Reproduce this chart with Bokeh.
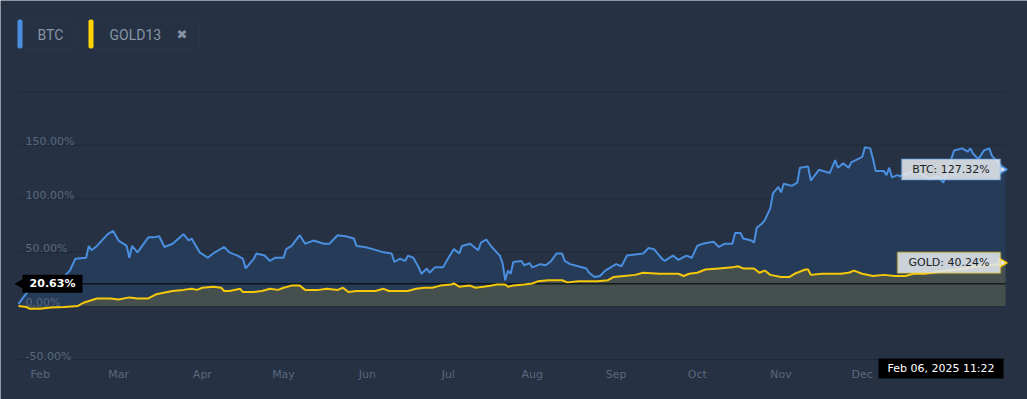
import numpy as np
import pandas as pd
from bokeh.plotting import figure
from bokeh.models import Range1d, ColumnDataSource, LabelSet, Label, BoxAnnotation
from bokeh.core.properties import value
from bokeh.embed import file_html
from bokeh.resources import INLINE

# ---------------- data ----------------
START = pd.Timestamp("2024-01-24")
SPAN_DAYS = 365

btc_day = [0, 3, 4, 12, 17, 19, 21, 25, 26, 27,
           29, 33, 35, 37, 40, 41, 42, 44, 48, 50,
           52, 54, 57, 61, 63, 64, 67, 70, 72, 76,
           78, 81, 83, 84, 87, 88, 91, 93, 95, 98,
           99, 101, 104, 106, 109, 113, 115, 118, 121, 124,
           125, 128, 131, 135, 138, 139, 141, 143, 144, 146,
           148, 149, 151, 152, 154, 157, 159, 161, 163, 164,
           167, 170, 171, 173, 175, 178, 179, 180, 181, 182,
           183, 186, 187, 189, 190, 193, 195, 197, 199, 201,
           202, 204, 207, 210, 211, 213, 215, 217, 219, 221,
           223, 225, 228, 231, 233, 235, 238, 239, 242, 244,
           247, 249, 251, 253, 257, 259, 261, 264, 265, 267,
           268, 271, 272, 273, 275, 276, 278, 279, 281, 282,
           283, 286, 288, 289, 292, 293, 296, 300, 302, 303,
           305, 307, 308, 312, 313, 315, 316, 317, 320, 321,
           322, 323, 325, 326, 330, 334, 337, 340, 342, 344,
           346, 349, 351, 352, 353, 355, 357, 359, 360, 363,
           365]
btc_pct = [2, 12, 17, 22, 28, 33, 44, 45, 56, 52,
           56, 67, 70, 61, 56, 45, 56, 50, 64, 64,
           65, 55, 58, 67, 61, 63, 50, 45, 49, 55,
           50, 47, 44, 35, 44, 49, 47, 42, 45, 45,
           53, 56, 66, 58, 61, 58, 58, 66, 65, 63,
           56, 55, 53, 50, 49, 41, 44, 42, 47, 45,
           36, 30, 35, 31, 36, 36, 45, 53, 49, 56,
           58, 52, 59, 62, 55, 47, 40, 24, 33, 30,
           41, 42, 38, 40, 36, 39, 38, 42, 49, 49,
           42, 39, 37, 35, 31, 27, 28, 33, 36, 39,
           37, 47, 48, 49, 54, 53, 44, 42, 47, 43,
           47, 45, 56, 58, 60, 55, 58, 58, 68, 68,
           63, 61, 59, 73, 77, 80, 91, 105, 111, 106,
           114, 112, 115, 129, 130, 117, 127, 124, 136, 129,
           133, 129, 134, 139, 148, 147, 137, 126, 126, 122,
           129, 120, 122, 121, 125, 123, 118, 121, 115, 130,
           145, 147, 144, 147, 142, 137, 145, 147, 140, 132,
           127.32]

gold_day = [0, 3, 4, 8, 12, 17, 22, 24, 29, 34,
            37, 41, 44, 48, 51, 55, 57, 61, 64, 66,
            68, 72, 75, 76, 78, 82, 83, 87, 90, 93,
            96, 98, 101, 104, 106, 111, 114, 118, 120, 122,
            125, 129, 132, 135, 137, 140, 144, 147, 150, 153,
            156, 160, 161, 163, 167, 169, 172, 175, 177, 180,
            181, 183, 187, 190, 192, 196, 201, 203, 207, 211,
            214, 218, 220, 224, 228, 231, 237, 240, 244, 246,
            248, 251, 254, 259, 264, 266, 268, 272, 274, 276,
            278, 282, 285, 287, 291, 292, 293, 297, 301, 304,
            307, 309, 312, 316, 320, 324, 328, 331, 335, 338,
            343, 347, 350, 354, 358, 362, 365]
gold_pct = [0, -1, -2.5, -2.5, -1.5, -1, 0, 3, 7, 7,
            6, 8, 7, 7, 11, 13, 14, 15, 16, 15,
            17, 18, 17, 14, 14, 16, 13, 13, 14, 16,
            15, 17, 19, 19, 15, 15, 16, 15, 17, 13,
            14, 14, 14, 16, 14, 14, 14, 16, 17, 17,
            19, 20, 21, 18, 19, 17, 18, 19, 20, 20,
            18, 19, 20, 21, 23, 24, 24, 22, 23, 23,
            23, 24, 27, 28, 29, 31, 30, 30, 30, 28,
            30, 31, 34, 35, 36, 37, 35, 35, 31, 33,
            29, 27, 27, 30, 34, 34, 29, 30, 30, 30,
            31, 33, 30, 28, 29, 28, 28, 30, 30, 31,
            33, 34, 35, 37, 38, 39, 40.24]

month_ticks = ["2024-02-01", "2024-03-01", "2024-04-01", "2024-05-01", "2024-06-01",
               "2024-07-01", "2024-08-01", "2024-09-01", "2024-10-01", "2024-11-01",
               "2024-12-01"]
month_labels = ["Feb", "Mar", "Apr", "May", "Jun", "Jul", "Aug", "Sep", "Oct", "Nov", "Dec"]

grid_ticks = [-50, 0, 50, 100, 150, 200]
y_label_ticks = [-50, 0, 50, 100, 150]
y_labels = ["-50.00%", "0.00%", "50.00%", "100.00%", "150.00%"]

legend_names = ["BTC", "GOLD13"]
crosshair_value = 20.63
crosshair_text = "20.63%"
crosshair_time = "Feb 06, 2025 11:22"
btc_tag = "BTC: 127.32%"
gold_tag = "GOLD: 40.24%"

# ---------------- style ----------------
BG = "#263244"
GRID = "#1f2937"
TICK = "#58687e"
BTC_LINE = "#4a8fdf"
BTC_FILL = "#263b57"
GOLD_LINE = "#f5c90a"
GOLD_FILL = "#444f4e"
LEG_TEXT = "#8794a6"
LEG_BORDER = "#334052"

W, H = 1027, 399
K = (277.5 + 79.8) / 383.0   # percent per pixel
DPP = SPAN_DAYS / 987.0      # days per pixel


def ms(ts):
    return pd.Timestamp(ts).value / 1e6


START_MS = ms(START)
END_MS = ms(START + pd.Timedelta(days=SPAN_DAYS))


def px_x(page_x):
    return START_MS + (page_x - 18) * DPP * 86400000.0


def px_y(page_y):
    return 277.5 - (page_y - 8) * K


btc_t = START + pd.to_timedelta(btc_day, unit="D")
gold_t = START + pd.to_timedelta(gold_day, unit="D")

p = figure(width=W, height=H, x_range=Range1d(px_x(0), px_x(W)),
           y_range=Range1d(px_y(H), px_y(0)),
           x_axis_location=None, y_axis_location=None, toolbar_location=None,
           output_backend="svg", background_fill_color=BG, border_fill_color=BG,
           outline_line_color=None, min_border_left=0, min_border_right=0,
           min_border_top=0, min_border_bottom=0)
p.center = []

# horizontal grid lines across the data span
p.segment(x0=[START_MS] * len(grid_ticks), x1=[END_MS] * len(grid_ticks),
          y0=grid_ticks, y1=grid_ticks, line_color=GRID, line_width=1)

# fills
p.varea(x=btc_t, y1=0, y2=btc_pct, fill_color=BTC_FILL)
p.varea(x=gold_t, y1=0, y2=gold_pct, fill_color=GOLD_FILL)

# crosshair horizontal line
p.line(x=[START_MS, END_MS], y=[crosshair_value, crosshair_value], line_color="black", line_width=1)

# lines
p.line(x=btc_t, y=btc_pct, line_color=BTC_LINE, line_width=2)
p.line(x=gold_t, y=gold_pct, line_color=GOLD_LINE, line_width=2)

# y tick labels
ysrc = ColumnDataSource(dict(x=[START_MS] * len(y_label_ticks), y=y_label_ticks, t=y_labels))
p.add_layout(LabelSet(x="x", y="y", text="t", source=ysrc, x_offset=7,
                      text_font=value("DejaVu Sans"), text_font_size=value("11px"),
                      text_color=TICK, text_baseline="alphabetic", text_align="left"))

# x tick labels
xsrc = ColumnDataSource(dict(x=[ms(d) for d in month_ticks], y=[px_y(374)] * len(month_ticks),
                             t=month_labels))
p.add_layout(LabelSet(x="x", y="y", text="t", source=xsrc,
                      text_font=value("DejaVu Sans"), text_font_size=value("11px"),
                      text_color=TICK, text_baseline="middle", text_align="center"))

# legend boxes
for (l, r, name, color, tx) in [(17, 77, legend_names[0], BTC_LINE, 37),
                                (88, 199, legend_names[1], "#ffd400", 109)]:
    p.add_layout(BoxAnnotation(left=px_x(l), right=px_x(r), top=px_y(19), bottom=px_y(48),
                               fill_alpha=0, line_color=LEG_BORDER, line_width=1,
                               border_radius=3))
    p.add_layout(BoxAnnotation(left=px_x(l), right=px_x(l + 5), top=px_y(19), bottom=px_y(48),
                               fill_color=color, fill_alpha=1, line_color=None,
                               border_radius=2))
    p.add_layout(Label(x=px_x(tx), y=px_y(34), text=name, text_font="Roboto",
                       text_font_size="14px", text_color=LEG_TEXT,
                       text_baseline="middle", text_align="left"))
p.add_layout(Label(x=px_x(176), y=px_y(34), text="\u2716", text_font="DejaVu Sans",
                   text_font_size="13px", text_color=LEG_TEXT,
                   text_baseline="middle", text_align="left"))

# crosshair value tag (left)
p.add_layout(BoxAnnotation(left=px_x(22), right=px_x(82),
                           top=crosshair_value + 9 * K, bottom=crosshair_value - 9 * K,
                           fill_color="black", fill_alpha=1, line_color=None))
p.scatter(x=[px_x(20)], y=[crosshair_value], marker="triangle", size=9, angle=np.pi / 2,
          fill_color="black", line_color="black")
p.add_layout(Label(x=px_x(52), y=crosshair_value, text=crosshair_text, text_font="DejaVu Sans",
                   text_font_style="bold", text_font_size="11px", text_color="white",
                   text_baseline="middle", text_align="center"))

# last-value tags (right)
for (val, txt, left, col) in [(btc_pct[-1], btc_tag, 901, BTC_LINE),
                              (gold_pct[-1], gold_tag, 897, "#f2c200")]:
    p.add_layout(BoxAnnotation(left=px_x(left), right=px_x(1000),
                               top=val + 10.5 * K, bottom=val - 10.5 * K,
                               fill_color="#e3e7ec", fill_alpha=0.88,
                               line_color=col, line_width=2))
    p.scatter(x=[px_x(1001.5)], y=[val], marker="triangle", size=9, angle=-np.pi / 2,
              fill_color="#e3e7ec", line_color=col, line_width=1.5)
    p.add_layout(Label(x=px_x((left + 1000) / 2), y=val, text=txt, text_font="DejaVu Sans",
                       text_font_size="11px", text_color="#1b1f24",
                       text_baseline="middle", text_align="center"))

# crosshair time tag (bottom)
p.add_layout(BoxAnnotation(left=px_x(878), right=px_x(1003), top=px_y(358), bottom=px_y(378),
                           fill_color="black", fill_alpha=1, line_color=None))
p.add_layout(Label(x=px_x(940.5), y=px_y(368), text=crosshair_time, text_font="DejaVu Sans",
                   text_font_size="11px", text_color="white",
                   text_baseline="middle", text_align="center"))

open("out.html", "w").write(file_html(p, INLINE))
